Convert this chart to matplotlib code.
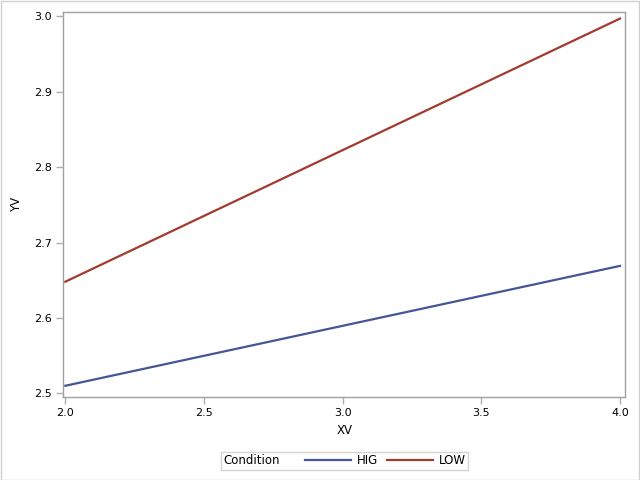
import numpy as np
from matplotlib import pyplot as plt
from matplotlib.offsetbox import HPacker

xv = [2.0, 4.0]
hig = [2.510, 2.669]
low = [2.648, 2.997]
conditions = ['HIG', 'LOW']
colors = ['#445694', '#A23A2E']

fig = plt.figure(figsize=(6.4, 4.8), dpi=100)
ax = fig.add_axes([63.3 / 640, 1 - 397.3 / 480, (625.3 - 63.3) / 640, (397.3 - 12.3) / 480])

for series, name, col in zip([hig, low], conditions, colors):
    ax.plot(xv, series, color=col, linewidth=1.6, label=name)

ax.set_xlim(1.9928, 4.019)
ax.set_ylim(2.4947, 3.0053)
ax.set_xticks(np.arange(2.0, 4.01, 0.5))
ax.set_yticks(np.arange(2.5, 3.01, 0.1))
ax.set_xticklabels(['2.0', '2.5', '3.0', '3.5', '4.0'])
ax.set_yticklabels(['2.5', '2.6', '2.7', '2.8', '2.9', '3.0'])
ax.tick_params(direction='out', length=5, width=1, color='#b0b0b0', labelsize=8, pad=3)
for s in ax.spines.values():
    s.set_color('#a0a0a0')
    s.set_linewidth(1)
ax.set_xlabel('XV', fontsize=8.5, labelpad=4)
ax.set_ylabel('YV', fontsize=8.5, labelpad=8)

# legend: title placed to the left of the entries
handles, labels = ax.get_legend_handles_labels()
leg = fig.legend(handles, labels, title='Condition', title_fontsize=8.5,
                 loc='center', bbox_to_anchor=(344.5 / 640, 1 - 461 / 480),
                 ncol=2, fontsize=8.5, frameon=True, fancybox=False, handlelength=3.9,
                 handletextpad=0.5, columnspacing=0.7, borderpad=0.25, borderaxespad=0)
vp = leg._legend_box
hp = HPacker(pad=vp.pad, sep=18, align='center', children=vp.get_children())
hp.set_figure(fig)
hp.axes = leg.axes
hp.set_offset(leg._findoffset)
leg._legend_box = hp
leg.get_frame().set_edgecolor('#c8c8c8')
leg.get_frame().set_linewidth(1)

# outer figure border
fig.patches.append(plt.Rectangle((0.5 / 640, 0.5 / 480), 638.5 / 640, 478.5 / 480, transform=fig.transFigure,
                                 fill=False, edgecolor='#d0d0d0', linewidth=1))

fig.savefig('out.png', dpi=100)
